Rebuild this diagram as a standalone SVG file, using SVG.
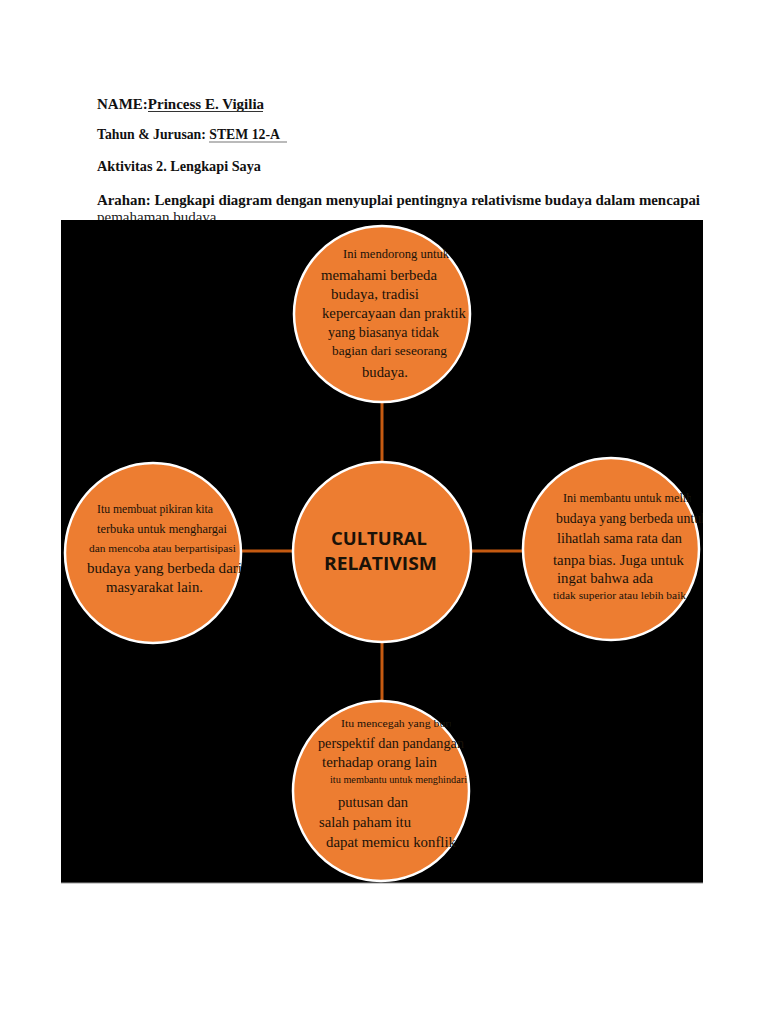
<svg xmlns="http://www.w3.org/2000/svg" width="768" height="1024" viewBox="0 0 768 1024">
<style>
.hd{font-family:"Liberation Serif","Times New Roman",serif;font-size:15px;font-weight:bold;fill:#111}
.ct{font-family:"Liberation Serif","Times New Roman",serif;fill:#1a1208}
.node{fill:#ED7D31;stroke:#ffffff;stroke-width:2.5}
.conn{stroke:#C55A11;stroke-width:3;fill:none}
.big{font-family:"Open Sans","Liberation Sans",sans-serif;font-weight:bold;font-size:18.5px;fill:#1a1208}
</style>
<defs>
<clipPath id="cLeft"><rect x="60" y="460" width="181" height="190"/></clipPath>
<clipPath id="cR1"><rect x="520" y="480" width="171" height="30"/></clipPath>
<clipPath id="cR2"><rect x="520" y="505" width="183" height="30"/></clipPath>
<clipPath id="cB1"><rect x="290" y="710" width="161" height="25"/></clipPath>
</defs>
<rect width="768" height="1024" fill="#ffffff"/>
<g id="header">
<text class="hd" x="97" y="109">NAME:<tspan>Princess E. Vigilia</tspan></text>
<line x1="148" y1="111.5" x2="263" y2="111.5" stroke="#333" stroke-width="1"/>
<text class="hd" x="97" y="139" textLength="183" lengthAdjust="spacingAndGlyphs">Tahun &amp; Jurusan: STEM 12-A</text>
<line x1="209" y1="142" x2="287" y2="142" stroke="#777" stroke-width="1.2"/>
<text class="hd" x="97" y="171" textLength="164" lengthAdjust="spacingAndGlyphs">Aktivitas 2. Lengkapi Saya</text>
<text class="hd" x="97" y="205" textLength="603" lengthAdjust="spacingAndGlyphs">Arahan: Lengkapi diagram dengan menyuplai pentingnya relativisme budaya dalam mencapai</text>
<text x="97" y="222" font-family="Liberation Serif, serif" font-size="15" fill="#222">pemahaman budaya</text>
</g>
<rect x="61" y="220" width="642" height="663" fill="#000000"/>
<line x1="61" y1="883" x2="703" y2="883" stroke="#999" stroke-width="1"/>
<g id="connectors">
<line class="conn" x1="382" y1="402" x2="382" y2="462"/>
<line class="conn" x1="241" y1="551" x2="293" y2="551"/>
<line class="conn" x1="471" y1="551" x2="523" y2="551"/>
<line class="conn" x1="382" y1="642" x2="382" y2="701"/>
</g>
<g id="node-top">
<ellipse class="node" cx="382" cy="314" rx="88" ry="88"/>
<g class="ct">
<text x="343" y="258" font-size="11.5" textLength="106" lengthAdjust="spacingAndGlyphs">Ini mendorong untuk</text>
<text x="321" y="280" font-size="14" textLength="116" lengthAdjust="spacingAndGlyphs">memahami berbeda</text>
<text x="331" y="299" font-size="14" textLength="88" lengthAdjust="spacingAndGlyphs">budaya, tradisi</text>
<text x="322" y="318" font-size="14" textLength="144" lengthAdjust="spacingAndGlyphs">kepercayaan dan praktik</text>
<text x="328" y="337" font-size="14" textLength="111" lengthAdjust="spacingAndGlyphs">yang biasanya tidak</text>
<text x="332" y="355" font-size="12.5" textLength="115" lengthAdjust="spacingAndGlyphs">bagian dari seseorang</text>
<text x="362" y="377" font-size="14" textLength="46" lengthAdjust="spacingAndGlyphs">budaya.</text>
</g>
</g>
<g id="node-center">
<ellipse class="node" cx="382" cy="552" rx="89" ry="90"/>
<text class="big" x="331" y="545" textLength="96" lengthAdjust="spacingAndGlyphs">CULTURAL</text>
<text class="big" x="324" y="570" textLength="113" lengthAdjust="spacingAndGlyphs">RELATIVISM</text>
</g>
<g id="node-left">
<ellipse class="node" cx="153" cy="553" rx="88" ry="90"/>
<g class="ct" clip-path="url(#cLeft)">
<text x="97" y="513" font-size="12" textLength="116" lengthAdjust="spacingAndGlyphs">Itu membuat pikiran kita</text>
<text x="97" y="533" font-size="12.5" textLength="130" lengthAdjust="spacingAndGlyphs">terbuka untuk menghargai</text>
<text x="89" y="552" font-size="11" textLength="147" lengthAdjust="spacingAndGlyphs">dan mencoba atau berpartisipasi</text>
<text x="87" y="573" font-size="15" textLength="155" lengthAdjust="spacingAndGlyphs">budaya yang berbeda dari</text>
<text x="106" y="592" font-size="15" textLength="97" lengthAdjust="spacingAndGlyphs">masyarakat lain.</text>
</g>
</g>
<g id="node-right">
<ellipse class="node" cx="611" cy="549" rx="88" ry="91"/>
<g class="ct">
<text x="563" y="502" font-size="12" textLength="138" lengthAdjust="spacingAndGlyphs" clip-path="url(#cR1)">Ini membantu untuk melihat</text>
<text x="556" y="523" font-size="14" textLength="152" lengthAdjust="spacingAndGlyphs" clip-path="url(#cR2)">budaya yang berbeda untuk</text>
<text x="557" y="543" font-size="14" textLength="125" lengthAdjust="spacingAndGlyphs">lihatlah sama rata dan</text>
<text x="553" y="565" font-size="14.5" textLength="131" lengthAdjust="spacingAndGlyphs">tanpa bias. Juga untuk</text>
<text x="557" y="583" font-size="14.5" textLength="96" lengthAdjust="spacingAndGlyphs">ingat bahwa ada</text>
<text x="553" y="599" font-size="11" textLength="133" lengthAdjust="spacingAndGlyphs">tidak superior atau lebih baik</text>
</g>
</g>
<g id="node-bottom">
<ellipse class="node" cx="381" cy="791" rx="88" ry="90"/>
<g class="ct">
<text x="341" y="727" font-size="11" textLength="120" lengthAdjust="spacingAndGlyphs" clip-path="url(#cB1)">Itu mencegah yang buruk</text>
<text x="318" y="748" font-size="14.5" textLength="146" lengthAdjust="spacingAndGlyphs">perspektif dan pandangan</text>
<text x="322" y="767" font-size="14.5" textLength="115" lengthAdjust="spacingAndGlyphs">terhadap orang lain</text>
<text x="330" y="783" font-size="10" textLength="137" lengthAdjust="spacingAndGlyphs">itu membantu untuk menghindari</text>
<text x="338" y="807" font-size="14.5" textLength="70" lengthAdjust="spacingAndGlyphs">putusan dan</text>
<text x="319" y="827" font-size="14.5" textLength="92" lengthAdjust="spacingAndGlyphs">salah paham itu</text>
<text x="326" y="847" font-size="14.5" textLength="130" lengthAdjust="spacingAndGlyphs">dapat memicu konflik</text>
</g>
</g>
</svg>
